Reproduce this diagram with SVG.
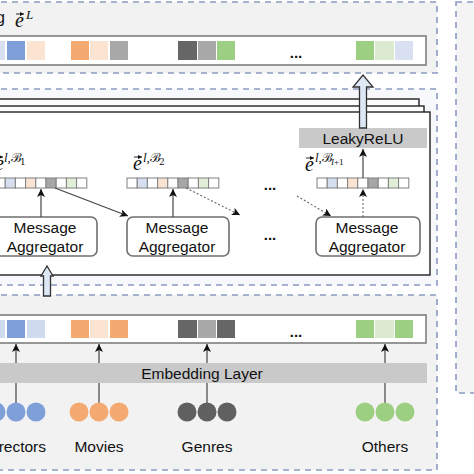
<svg xmlns="http://www.w3.org/2000/svg" width="474" height="474" viewBox="0 0 474 474">
<defs>
<style>
.panel{stroke:#8a9ac2;stroke-width:1.6;stroke-dasharray:6 5}
.bar{fill:#ffffff;stroke:#777;stroke-width:1.5}
.cell{stroke:#808080;stroke-width:1}
.stack{fill:#ffffff;stroke:#222;stroke-width:1.4}
.ma{fill:#ffffff;stroke:#6f6f6f;stroke-width:1.6}
.t{font-family:"Liberation Sans",Arial,sans-serif;fill:#111}
.m{font-family:"Liberation Serif","DejaVu Serif",serif;font-style:italic;fill:#111}
.sc{font-family:"DejaVu Serif","Noto Sans",serif;font-style:normal;fill:#111}
.dots{font-family:"Liberation Sans",Arial,sans-serif;font-weight:bold;font-size:15px;fill:#111;text-anchor:middle}
.ln{stroke:#444;stroke-width:1.2;fill:none}
.dl{stroke:#666;stroke-width:1.1;stroke-dasharray:2 2;fill:none}
.blk{fill:#dde7f5;stroke:#333;stroke-width:1.3}
.va{stroke:#111;stroke-width:0.9}
</style>
<marker id="ah" viewBox="0 0 8 8" refX="8" refY="4" markerWidth="8" markerHeight="8" markerUnits="userSpaceOnUse" orient="auto">
<path d="M0,0 L8,4 L0,8 L2,4 Z" fill="#111"/>
</marker>
<marker id="sa" viewBox="0 0 6 6" refX="6" refY="3" markerWidth="4" markerHeight="4" markerUnits="userSpaceOnUse" orient="auto">
<path d="M0,0 L6,3 L0,6 Z" fill="#111"/>
</marker>
</defs>
<rect width="474" height="474" fill="#ffffff"/>

<g id="panels">
<rect class="panel" x="456" y="2" width="40" height="391" fill="#f4f4f4"/>
<rect class="panel" x="-10" y="2" width="447" height="71" fill="#f2f2f2"/>
<rect class="panel" x="-10" y="89" width="447" height="196" fill="#f6f8fb"/>
<rect class="panel" x="-10" y="295" width="447" height="175" fill="#f2f2f2"/>
</g>

<g id="output">
<text class="t" x="5" y="23" font-size="16" text-anchor="end">g</text>
<text class="m" x="15" y="27" font-size="20">e</text>
<text class="m" x="26" y="19" font-size="13">L</text>
<line class="va" x1="16" y1="14" x2="24" y2="14" marker-end="url(#sa)"/>
<rect class="bar" x="-5" y="36" width="431" height="29"/>
<rect x="-13" y="41" width="18" height="19" fill="#d7dff0"/>
<rect x="7" y="41" width="18" height="19" fill="#7f9fd8"/>
<rect x="27" y="41" width="18" height="19" fill="#fce4d3"/>
<rect x="71" y="41" width="18" height="19" fill="#f4a971"/>
<rect x="90" y="41" width="18" height="19" fill="#fce4d3"/>
<rect x="110" y="41" width="18" height="19" fill="#a8a8a8"/>
<rect x="178" y="41" width="19" height="19" fill="#666666"/>
<rect x="198" y="41" width="18" height="19" fill="#a8a8a8"/>
<rect x="217" y="41" width="18" height="19" fill="#9dcf82"/>
<text class="dots" x="296" y="58">...</text>
<rect x="356" y="41" width="18" height="19" fill="#9dcf82"/>
<rect x="375" y="41" width="19" height="19" fill="#dcebd0"/>
<rect x="395" y="41" width="18" height="19" fill="#d9e0f2"/>
</g>

<g id="layer">
<rect class="stack" x="-10" y="99" width="429" height="150"/>
<rect class="stack" x="-10" y="106" width="434" height="155"/>
<rect class="stack" x="-10" y="112" width="440" height="163"/>
</g>

<g id="leakyrelu">
<rect x="299" y="128" width="128" height="20" fill="#c9c9c9"/>
<text class="t" x="363" y="144" font-size="15.5" text-anchor="middle">LeakyReLU</text>
</g>

<g id="vec1">
<rect class="cell" x="-5" y="178" width="10.2" height="10" fill="#fff"/>
<rect class="cell" x="5.2" y="178" width="10.2" height="10" fill="#d6dff0" stroke="#445"/>
<rect class="cell" x="15.4" y="178" width="10.2" height="10" fill="#fff"/>
<rect class="cell" x="25.6" y="178" width="10.2" height="10" fill="#fbe3d2"/>
<rect class="cell" x="35.8" y="178" width="10.2" height="10" fill="#fff"/>
<rect class="cell" x="46" y="178" width="10.2" height="10" fill="#a6a6a6"/>
<rect class="cell" x="56.2" y="178" width="10.2" height="10" fill="#fff"/>
<rect class="cell" x="66.4" y="178" width="10.2" height="10" fill="#e2efd8"/>
<rect class="cell" x="76.6" y="178" width="10.2" height="10" fill="#fff"/>
<text class="m" x="-5" y="170" font-size="20">e</text>
<text class="m" x="4" y="162" font-size="13">l,</text>
<text class="sc" x="11" y="162" font-size="12.5">ℬ</text>
<text class="sc" x="20" y="165" font-size="9">1</text>
<line class="va" x1="-4" y1="157" x2="3" y2="157" marker-end="url(#sa)"/>
</g>
<g id="vec2">
<rect class="cell" x="127" y="178" width="10.2" height="10" fill="#fff"/>
<rect class="cell" x="137.2" y="178" width="10.2" height="10" fill="#d6dff0" stroke="#445"/>
<rect class="cell" x="147.4" y="178" width="10.2" height="10" fill="#fff"/>
<rect class="cell" x="157.6" y="178" width="10.2" height="10" fill="#fbe3d2"/>
<rect class="cell" x="167.8" y="178" width="10.2" height="10" fill="#fff"/>
<rect class="cell" x="178" y="178" width="10.2" height="10" fill="#a6a6a6"/>
<rect class="cell" x="188.2" y="178" width="10.2" height="10" fill="#fff"/>
<rect class="cell" x="198.4" y="178" width="10.2" height="10" fill="#e2efd8"/>
<rect class="cell" x="208.6" y="178" width="10.2" height="10" fill="#fff"/>
<text class="m" x="133" y="170" font-size="20">e</text>
<text class="m" x="143" y="162" font-size="13">l,</text>
<text class="sc" x="150" y="162" font-size="12.5">ℬ</text>
<text class="sc" x="159" y="165" font-size="9">2</text>
<line class="va" x1="134" y1="157" x2="142" y2="157" marker-end="url(#sa)"/>
</g>
<g id="vec3">
<rect class="cell" x="317" y="178" width="10.2" height="10" fill="#fff"/>
<rect class="cell" x="327.2" y="178" width="10.2" height="10" fill="#d6dff0" stroke="#445"/>
<rect class="cell" x="337.4" y="178" width="10.2" height="10" fill="#fff"/>
<rect class="cell" x="347.6" y="178" width="10.2" height="10" fill="#fbe3d2"/>
<rect class="cell" x="357.8" y="178" width="10.2" height="10" fill="#fff"/>
<rect class="cell" x="368" y="178" width="10.2" height="10" fill="#a6a6a6"/>
<rect class="cell" x="378.2" y="178" width="10.2" height="10" fill="#fff"/>
<rect class="cell" x="388.4" y="178" width="10.2" height="10" fill="#e2efd8"/>
<rect class="cell" x="398.6" y="178" width="10.2" height="10" fill="#fff"/>
<text class="m" x="305" y="171" font-size="20">e</text>
<text class="m" x="315" y="162" font-size="13">l,</text>
<text class="sc" x="322" y="162" font-size="12.5">ℬ</text>
<text class="m" x="331" y="165" font-size="9">I<tspan font-style="normal">+1</tspan></text>
<line class="va" x1="306" y1="158" x2="314" y2="158" marker-end="url(#sa)"/>
</g>

<g id="ma1">
<rect class="ma" x="-10" y="217" width="107" height="39" rx="6"/>
<text class="t" font-size="15.5" text-anchor="middle"><tspan x="45" y="233">Message</tspan><tspan x="45" y="252">Aggregator</tspan></text>
</g>
<g id="ma2">
<rect class="ma" x="127" y="217" width="102" height="39" rx="6"/>
<text class="t" font-size="15.5" text-anchor="middle"><tspan x="177" y="233">Message</tspan><tspan x="177" y="252">Aggregator</tspan></text>
</g>
<g id="ma3">
<rect class="ma" x="316" y="217" width="104" height="39" rx="6"/>
<text class="t" font-size="15.5" text-anchor="middle"><tspan x="367" y="233">Message</tspan><tspan x="367" y="252">Aggregator</tspan></text>
</g>
<text class="dots" x="270" y="190">...</text>
<text class="dots" x="270" y="240">...</text>

<g id="input">
<rect class="bar" x="-5" y="315" width="431" height="28"/>
<rect x="-13" y="320" width="18" height="18" fill="#d0dbf0"/>
<rect x="7" y="320" width="18" height="18" fill="#7f9fd8"/>
<rect x="27" y="320" width="18" height="18" fill="#d0dbf0"/>
<rect x="71" y="320" width="18" height="18" fill="#f4a971"/>
<rect x="90" y="320" width="18" height="18" fill="#fce4d3"/>
<rect x="110" y="320" width="18" height="18" fill="#f4a971"/>
<rect x="178" y="320" width="19" height="18" fill="#666666"/>
<rect x="198" y="320" width="18" height="18" fill="#a8a8a8"/>
<rect x="217" y="320" width="18" height="18" fill="#666666"/>
<text class="dots" x="296" y="337">...</text>
<rect x="356" y="320" width="18" height="18" fill="#9dcf82"/>
<rect x="375" y="320" width="19" height="18" fill="#dcebd0"/>
<rect x="395" y="320" width="18" height="18" fill="#9dcf82"/>
</g>

<g id="connectors">
<line class="ln" x1="41" y1="217" x2="41" y2="189" marker-end="url(#ah)"/>
<line class="ln" x1="173" y1="217" x2="173" y2="189" marker-end="url(#ah)"/>
<line class="dl" x1="363" y1="217" x2="363" y2="189" marker-end="url(#ah)"/>
<line class="ln" x1="363" y1="178" x2="363" y2="149" stroke="#777" marker-end="url(#ah)"/>
<line class="ln" x1="55" y1="188" x2="128" y2="216" marker-end="url(#ah)"/>
<line class="dl" x1="186" y1="188" x2="240" y2="215" marker-end="url(#ah)"/>
<line class="dl" x1="297" y1="196" x2="331" y2="216" marker-end="url(#ah)"/>
<line class="ln" x1="16" y1="410" x2="16" y2="344" marker-end="url(#ah)"/>
<line class="ln" x1="99" y1="410" x2="99" y2="344" marker-end="url(#ah)"/>
<line class="ln" x1="207" y1="410" x2="207" y2="344" marker-end="url(#ah)"/>
<line class="ln" x1="385" y1="410" x2="385" y2="344" marker-end="url(#ah)"/>
<path class="blk" d="M359.5,128 L359.5,87 L353,87 L363,75 L373,87 L366.5,87 L366.5,128 Z"/>
<path class="blk" d="M43.5,296 L43.5,276 L41,276 L47,266 L53,276 L50.5,276 L50.5,296 Z"/>
</g>

<g id="embedding">
<rect x="-5" y="363" width="432" height="20" fill="#c9c9c9"/>
<text class="t" x="202" y="379" font-size="15.5" text-anchor="middle">Embedding Layer</text>
</g>

<g id="directors">
<circle cx="-4" cy="412" r="9.5" fill="#7f9fd8"/>
<circle cx="36" cy="412" r="9.5" fill="#7f9fd8"/>
<circle cx="16" cy="412" r="9.5" fill="#7f9fd8"/>
<text class="t" x="46" y="452" font-size="15.5" text-anchor="end">rectors</text>
</g>
<g id="movies">
<circle cx="79" cy="412" r="9.5" fill="#f4a971"/>
<circle cx="119" cy="412" r="9.5" fill="#f4a971"/>
<circle cx="99" cy="412" r="9.5" fill="#f4a971"/>
<text class="t" x="99" y="452" font-size="15.5" text-anchor="middle">Movies</text>
</g>
<g id="genres">
<circle cx="187" cy="412" r="9.5" fill="#606060"/>
<circle cx="227" cy="412" r="9.5" fill="#606060"/>
<circle cx="207" cy="412" r="9.5" fill="#606060"/>
<text class="t" x="207" y="452" font-size="15.5" text-anchor="middle">Genres</text>
</g>
<g id="others">
<circle cx="365" cy="412" r="9.5" fill="#9dcf82"/>
<circle cx="405" cy="412" r="9.5" fill="#9dcf82"/>
<circle cx="385" cy="412" r="9.5" fill="#9dcf82"/>
<text class="t" x="385" y="452" font-size="15.5" text-anchor="middle">Others</text>
</g>
</svg>
